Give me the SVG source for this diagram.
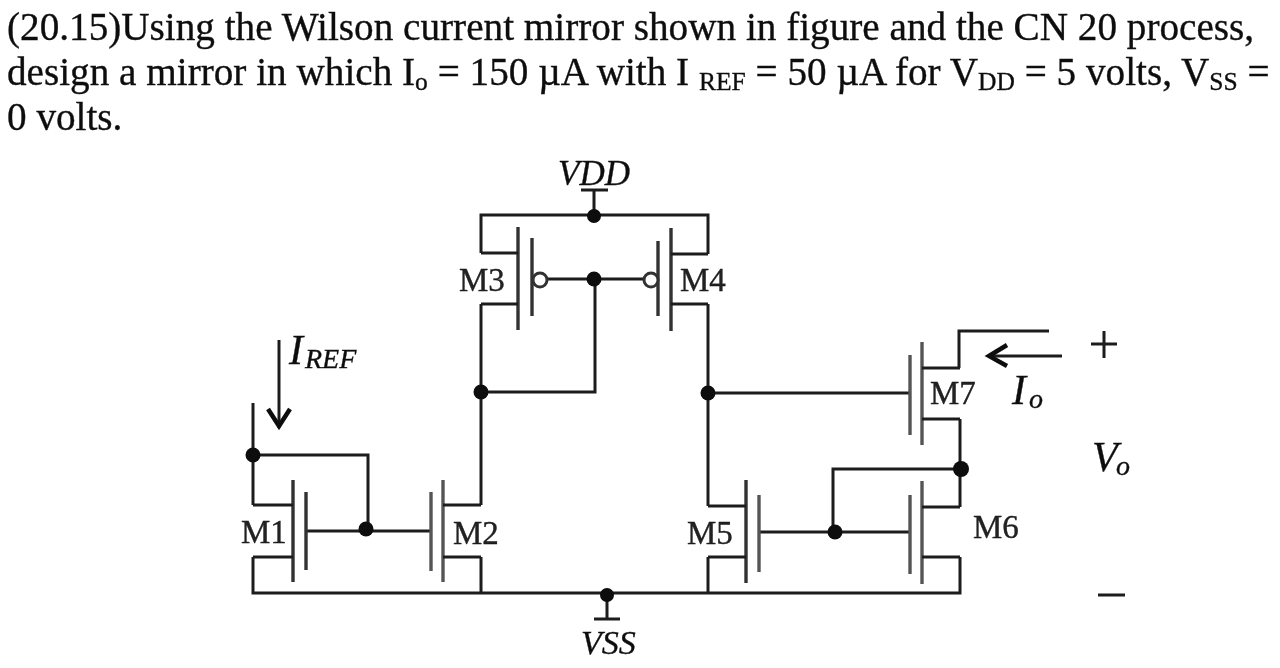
<svg xmlns="http://www.w3.org/2000/svg" width="1280" height="668" viewBox="0 0 1280 668">
<style>
.t{font-family:"Liberation Serif","Times New Roman",serif;fill:#111;stroke:#111;stroke-width:.35}
.p{font-size:39.2px}
.s{font-size:25.5px}
.m{font-size:33px;fill:#222}
.i{font-style:italic}
.w{fill:none;stroke:#1c1c1c;stroke-width:3;stroke-linejoin:miter}
.h{fill:none;stroke:#111;stroke-width:4.5;stroke-linejoin:miter}
.c{fill:none;stroke:#333;stroke-width:3.4}
.g{fill:none;stroke:#555;stroke-width:3.4}
.d{fill:#0c0c0c}
.b{fill:#fff;stroke:#333;stroke-width:3}
</style>
<defs><filter id="soft" x="0" y="0" width="1" height="1" filterUnits="objectBoundingBox"><feGaussianBlur stdDeviation="0.45"/></filter></defs>
<rect width="1280" height="668" fill="#fff"/>
<g filter="url(#soft)">
<rect width="1280" height="668" fill="#fff"/>
<g id="question">
<text class="t p" x="7" y="40">(20.15)Using the Wilson current mirror shown in figure and the CN 20 process,</text>
<text class="t p" x="7" y="85">design a mirror in which I<tspan class="s" dy="5">o</tspan><tspan dy="-5"> = 150 µA with I </tspan><tspan class="s" dy="5">REF</tspan><tspan dy="-5"> = 50 µA for V</tspan><tspan class="s" dy="5">DD</tspan><tspan dy="-5"> = 5 volts, V</tspan><tspan class="s" dy="5">SS</tspan><tspan dy="-5"> =</tspan></text>
<text class="t p" x="7" y="130">0 volts.</text>
</g>
<g id="connectors" class="w">
<path d="M481 253V215H708V254"/>
<path d="M594 215V190M581 190H608"/>
<path d="M548 279H644"/>
<path d="M595 279V392H481"/>
<path d="M481 304V505"/>
<path d="M708 304V506"/>
<path d="M708 393H910"/>
<path d="M253 403V505"/>
<path d="M253 455H368V530"/>
<path d="M306 531H431"/>
<path d="M253 557V593H960V557"/>
<path d="M481 557V593M708 557V593"/>
<path d="M759 532H910"/>
<path d="M833 532V469H960"/>
<path d="M960 419V507"/>
<path d="M959 368V331H1049"/>
<path d="M607 595V619M594 619H620"/>
<path d="M279 340V428"/>
<path class="h" d="M268 409L279 426L290 409"/>
<path d="M1062 356H990"/>
<path class="h" d="M1007 345L989 356L1007 366"/>
</g>
<g id="junctions" class="d">
<circle cx="594" cy="216" r="7"/><circle cx="594" cy="279" r="7.5"/>
<circle cx="481" cy="392" r="7.5"/><circle cx="708" cy="393" r="7.5"/>
<circle cx="253" cy="455" r="7.5"/><circle cx="366" cy="529" r="7.5"/>
<circle cx="835" cy="532" r="7.5"/><circle cx="961" cy="469" r="8"/>
<circle cx="607" cy="595" r="7"/>
</g>
<g id="M1"><path class="c" d="M293 480V582"/><path class="c" d="M306 492V570"/><path class="w" d="M253 505H293M253 557H293"/><text class="t m" x="241" y="543">M1</text></g>
<g id="M2"><path class="g" d="M431 492V571"/><path class="g" d="M443 480V582"/><path class="w" d="M443 505H481M443 557H481"/><text class="t m" x="453" y="544">M2</text></g>
<g id="M3"><path class="c" d="M518 227V330"/><path class="c" d="M532 238V316"/><path class="w" d="M481 253H518M481 304H518"/><circle class="b" cx="540" cy="280" r="7"/><text class="t m" x="459" y="291">M3</text></g>
<g id="M4"><path class="c" d="M671 228V331"/><path class="c" d="M658 241V316"/><path class="w" d="M671 254H708M671 304H708"/><circle class="b" cx="651" cy="280" r="7"/><text class="t m" x="680" y="291">M4</text></g>
<g id="M5"><path class="c" d="M746 480V583"/><path class="g" d="M759 495V572"/><path class="w" d="M708 506H746M708 557H746"/><text class="t m" x="687" y="544">M5</text></g>
<g id="M6"><path class="g" d="M922 481V584"/><path class="g" d="M910 495V574"/><path class="w" d="M922 507H960M922 557H960"/><text class="t m" x="973" y="538">M6</text></g>
<g id="M7"><path class="g" d="M922 342V445"/><path class="g" d="M910 355V435"/><path class="w" d="M922 368H960M922 419H960"/><text class="t m" x="930" y="404">M7</text></g>
<g id="labels">
<text class="t i" x="558" y="185" font-size="35">VDD</text>
<text class="t i" x="581" y="654" font-size="34">VSS</text>
<text class="t i" x="289" y="364" font-size="42">I</text>
<text class="t i" x="305" y="368" font-size="28">REF</text>
<text class="t i" x="1012" y="404" font-size="42">I</text>
<text class="t i" x="1029" y="408" font-size="28">o</text>
<text class="t i" x="1092" y="471" font-size="42">V</text>
<text class="t i" x="1116" y="475" font-size="28">o</text>
<path class="w" d="M1091 344H1117M1104 331V358M1098 595H1125"/>
</g>
</g>
</svg>
